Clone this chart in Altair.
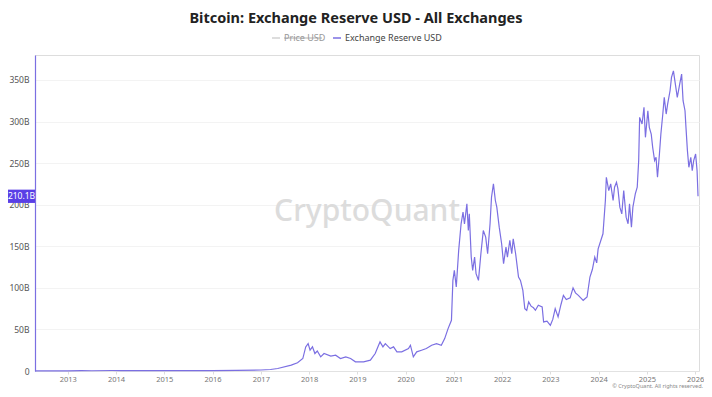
import altair as alt
import pandas as pd

# time as decimal year, reserve in billions USD
years = [
    2012.32, 2012.70, 2013.00, 2013.28, 2013.50, 2013.92, 2014.10, 2014.50, 2015.00,
    2015.50, 2016.00, 2016.50, 2017.00, 2017.20, 2017.35,
    2017.63, 2017.76, 2017.87, 2017.93, 2017.98, 2018.02, 2018.07, 2018.12, 2018.17,
    2018.24, 2018.31, 2018.45, 2018.55, 2018.65, 2018.76, 2018.86, 2018.96, 2019.13,
    2019.27, 2019.37, 2019.44, 2019.47, 2019.53, 2019.58, 2019.68, 2019.75, 2019.82,
    2019.92, 2020.06, 2020.10, 2020.16, 2020.23, 2020.33, 2020.43, 2020.54, 2020.64,
    2020.74, 2020.81, 2020.88, 2020.95,
    2020.98, 2021.01, 2021.05, 2021.10, 2021.15, 2021.19, 2021.22, 2021.27, 2021.30,
    2021.32, 2021.36, 2021.39, 2021.43, 2021.46, 2021.51, 2021.56, 2021.61, 2021.66,
    2021.70, 2021.75, 2021.78, 2021.82, 2021.86, 2021.89, 2021.94, 2021.99, 2022.03,
    2022.08, 2022.11, 2022.16, 2022.20, 2022.23, 2022.28, 2022.34, 2022.38, 2022.43,
    2022.47, 2022.51, 2022.55, 2022.60, 2022.65, 2022.69, 2022.75, 2022.83, 2022.86,
    2022.93, 2023.00, 2023.05, 2023.10, 2023.16, 2023.22, 2023.27, 2023.33, 2023.41,
    2023.47, 2023.52, 2023.58, 2023.68, 2023.76, 2023.82, 2023.87, 2023.92, 2023.96,
    2023.99, 2024.09, 2024.14, 2024.16, 2024.21, 2024.25, 2024.30, 2024.33, 2024.37,
    2024.40, 2024.44, 2024.48, 2024.52, 2024.57, 2024.61, 2024.64, 2024.68, 2024.71,
    2024.76, 2024.80, 2024.83, 2024.85, 2024.90, 2024.94, 2024.97, 2025.02, 2025.05,
    2025.09, 2025.12, 2025.16, 2025.19, 2025.22, 2025.26, 2025.29, 2025.33, 2025.36,
    2025.40, 2025.43, 2025.48, 2025.51, 2025.55, 2025.60, 2025.63, 2025.68, 2025.72,
    2025.75, 2025.79, 2025.81, 2025.84, 2025.87, 2025.91, 2025.94, 2025.97, 2026.01,
    2026.04, 2026.06,
]
reserve_b = [
    0.05, 0.10, 0.15, 0.40, 0.30, 0.60, 0.55, 0.45, 0.35,
    0.35, 0.50, 0.80, 1.20, 1.80, 3.0,
    7, 10, 15, 29, 33, 25, 29, 21, 24,
    17, 21, 18, 19, 15, 17, 15, 11, 11,
    13, 21, 31, 35, 29, 33, 27, 29, 23,
    23, 27, 31, 17, 23, 25, 27, 31, 33,
    31, 39, 51, 61,
    109, 121, 101, 145, 177, 191, 177, 201, 169,
    189, 137, 121, 137, 117, 109, 141, 169, 161,
    141, 177, 209, 225, 205, 197, 173, 153, 129,
    149, 137, 157, 141, 159, 141, 113, 109, 97,
    75, 73, 83, 78, 76, 73, 79, 77, 59,
    60, 55, 62, 75, 65, 80, 91, 86, 88,
    100, 94, 91, 85, 89, 113, 122, 137, 130,
    147, 165, 205, 233, 217, 225, 205, 221, 227,
    219, 197, 189, 217, 185, 177, 201, 173, 197,
    213, 221, 253, 305, 297, 317, 281, 313, 293,
    285, 269, 253, 257, 233, 261, 285, 309, 329,
    309, 321, 337, 353, 361, 341, 329, 345, 357,
    325, 313, 293, 265, 245, 257, 241, 253, 261,
    241, 210.1,
]
y_ticks = [0, 50, 100, 150, 200, 250, 300, 350]
x_ticks = list(range(2013, 2027))
title_text = "Bitcoin: Exchange Reserve USD - All Exchanges"
legend_hidden = "Price USD"
legend_shown = "Exchange Reserve USD"
last_label = "210.1B"
watermark = "CryptoQuant"
footer = "© CryptoQuant. All rights reserved."

LINE = "#7b6fe2"
FONT = "Noto Sans"
W, H = 664, 316

df = pd.DataFrame({"year": years, "value": reserve_b})

x_scale = alt.Scale(domain=[2012.32, 2026.08], nice=False, zero=False)
y_scale = alt.Scale(domain=[0, 380], nice=False)

line = alt.Chart(df).mark_line(color=LINE, strokeWidth=1.2).encode(
    x=alt.X("year:Q", scale=x_scale,
            axis=alt.Axis(values=x_ticks, format="d", title=None, grid=False,
                          domainColor="#e2e2e2", tickColor="#dddddd", tickSize=3,
                          labelFontSize=7.5, labelColor="#777777", labelPadding=1,
                          labelFlush=False, labelFont=FONT)),
    y=alt.Y("value:Q", scale=y_scale,
            axis=alt.Axis(values=y_ticks, title=None, grid=True, gridColor="#f3f3f3",
                          domainColor=LINE, domainWidth=1.2, ticks=False,
                          labelExpr="datum.value == 0 ? '0' : datum.value + 'B'",
                          labelFontSize=8.5, labelColor="#555555", labelPadding=6,
                          labelFont=FONT)),
)

one = pd.DataFrame({"v": [float(reserve_b[-1])],
                    "lo": [reserve_b[-1] - 8.0], "hi": [reserve_b[-1] + 8.0]})

badge = alt.Chart(one).mark_rect(color="#5a3fe6").encode(
    x=alt.value(-27), x2=alt.value(0),
    y=alt.Y("lo:Q", scale=y_scale), y2="hi:Q",
)
badge_text = alt.Chart(one).mark_text(color="white", fontSize=8.5, font=FONT, align="center").encode(
    x=alt.value(-13.5), y=alt.Y("v:Q", scale=y_scale), text=alt.value(last_label)
)

dummy = pd.DataFrame({"a": [0]})

def txt(text, x, y, **kw):
    return alt.Chart(dummy).mark_text(font=FONT, **kw).encode(
        x=alt.value(x), y=alt.value(y), text=alt.value(text))

def rule(x1, x2, y, color, w=1):
    return alt.Chart(dummy).mark_rule(color=color, strokeWidth=w).encode(
        x=alt.value(x1), x2=alt.value(x2), y=alt.value(y))

OX = 6  # plot origin shift relative to reference layout
title = txt(title_text, 327 - OX, -36, fontSize=14.5, fontWeight="bold", color="#222222", align="center")
leg1_sw = rule(243 - OX, 251 - OX, -17, "#bbbbbb")
leg1 = txt(legend_hidden, 255 - OX, -17, fontSize=9, color="#999999", align="left")
leg1_strike = rule(255 - OX, 293 - OX, -17, "#999999", 0.8)
leg2_sw = rule(304 - OX, 312 - OX, -17, LINE, 1.5)
leg2 = txt(legend_shown, 316 - OX, -17, fontSize=9, color="#444444", align="left")
wm = txt(watermark, 338 - OX, 157, fontSize=30, fontWeight=500, color="#dcdcdc", align="center")
foot = txt(footer, 668, 331, fontSize=5.5, color="#888888", align="right")

chart = alt.layer(
    wm, line, badge, badge_text, title, leg1_sw, leg1, leg1_strike, leg2_sw, leg2, foot
).properties(
    width=W, height=H,
    autosize=alt.AutoSizeParams(type="none"),
    padding={"left": 27, "top": 47, "right": 5, "bottom": 18},
).configure_view(stroke=None).configure(background="white")

chart.save("out.html", embed_options={"renderer": "svg", "actions": False})
